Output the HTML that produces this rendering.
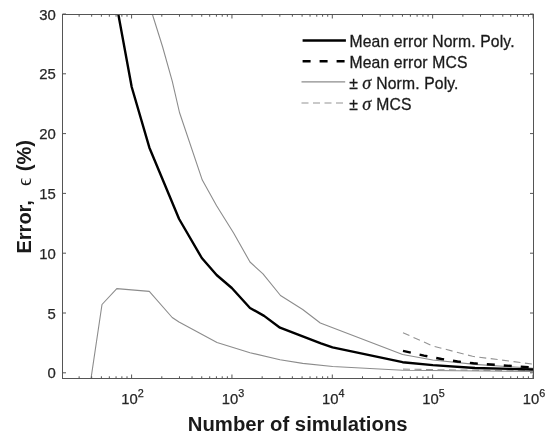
<!DOCTYPE html>
<html><head><meta charset="utf-8"><style>html,body{margin:0;padding:0;background:#fff;width:550px;height:440px;overflow:hidden}svg{display:block}</style></head>
<body><svg width="550" height="440" viewBox="0 0 550 440">
<defs><clipPath id="c"><rect x="62.5" y="14.5" width="471.0" height="364.0"/></clipPath></defs>
<rect width="550" height="440" fill="#fff"/>
<g clip-path="url(#c)" fill="none" stroke-linejoin="round">
<polyline points="89.0,392.0 102.0,304.5 116.8,288.6 149.3,291.4 172.2,317.5 179.0,322.0 217.0,342.5 250.0,352.7 280.0,359.8 302.7,363.4 332.7,366.5 402.6,370.3 533.0,371.5" stroke="#8c8c8c" stroke-width="1.1"/>
<polyline points="403.0,369.1 475.0,370.3 533.0,371.0" stroke="#939393" stroke-width="1.1" stroke-dasharray="7,4.5"/>
<polyline points="149.4,3.0 152.3,14.0 162.5,46.5 172.3,81.4 179.5,112.5 202.3,180.1 216.6,205.7 233.6,233.0 250.0,262.0 263.0,273.9 280.5,295.5 302.7,309.5 320.3,323.0 402.6,354.5 432.8,360.0 475.0,364.4 533.0,368.2" stroke="#8c8c8c" stroke-width="1.1"/>
<polyline points="403.0,332.7 432.6,345.9 472.5,356.3 532.4,364.1" stroke="#939393" stroke-width="1.1" stroke-dasharray="7,4.5"/>
<polyline points="116.8,6.0 131.7,87.0 149.4,147.7 179.1,219.0 201.8,258.0 216.6,275.0 231.8,288.0 250.0,308.0 264.1,315.9 280.0,327.7 302.7,336.4 320.9,343.4 332.5,347.3 402.6,362.2 432.8,365.1 475.0,368.0 533.0,369.5" stroke="#000" stroke-width="2.4"/>
<polyline points="403.0,350.8 424.0,355.6 441.5,359.0 457.5,361.5 473.5,363.3 533.0,367.5" stroke="#000" stroke-width="2.4" stroke-dasharray="8,9"/>
</g>
<rect x="62.5" y="14.5" width="471.0" height="364.0" fill="none" stroke="#555" stroke-width="1"/>
<path d="M79.13,378.5v-2.2M79.13,14.5v2.2M91.67,378.5v-2.2M91.67,14.5v2.2M101.39,378.5v-2.2M101.39,14.5v2.2M109.34,378.5v-2.2M109.34,14.5v2.2M116.06,378.5v-2.2M116.06,14.5v2.2M121.88,378.5v-2.2M121.88,14.5v2.2M127.01,378.5v-2.2M127.01,14.5v2.2M131.60,378.5v-4M131.60,14.5v4M161.81,378.5v-2.2M161.81,14.5v2.2M179.48,378.5v-2.2M179.48,14.5v2.2M192.02,378.5v-2.2M192.02,14.5v2.2M201.74,378.5v-2.2M201.74,14.5v2.2M209.69,378.5v-2.2M209.69,14.5v2.2M216.41,378.5v-2.2M216.41,14.5v2.2M222.23,378.5v-2.2M222.23,14.5v2.2M227.36,378.5v-2.2M227.36,14.5v2.2M231.95,378.5v-4M231.95,14.5v4M262.16,378.5v-2.2M262.16,14.5v2.2M279.83,378.5v-2.2M279.83,14.5v2.2M292.37,378.5v-2.2M292.37,14.5v2.2M302.09,378.5v-2.2M302.09,14.5v2.2M310.04,378.5v-2.2M310.04,14.5v2.2M316.76,378.5v-2.2M316.76,14.5v2.2M322.58,378.5v-2.2M322.58,14.5v2.2M327.71,378.5v-2.2M327.71,14.5v2.2M332.30,378.5v-4M332.30,14.5v4M362.51,378.5v-2.2M362.51,14.5v2.2M380.18,378.5v-2.2M380.18,14.5v2.2M392.72,378.5v-2.2M392.72,14.5v2.2M402.44,378.5v-2.2M402.44,14.5v2.2M410.39,378.5v-2.2M410.39,14.5v2.2M417.11,378.5v-2.2M417.11,14.5v2.2M422.93,378.5v-2.2M422.93,14.5v2.2M428.06,378.5v-2.2M428.06,14.5v2.2M432.65,378.5v-4M432.65,14.5v4M462.86,378.5v-2.2M462.86,14.5v2.2M480.53,378.5v-2.2M480.53,14.5v2.2M493.07,378.5v-2.2M493.07,14.5v2.2M502.79,378.5v-2.2M502.79,14.5v2.2M510.74,378.5v-2.2M510.74,14.5v2.2M517.46,378.5v-2.2M517.46,14.5v2.2M523.28,378.5v-2.2M523.28,14.5v2.2M528.41,378.5v-2.2M528.41,14.5v2.2M533.00,378.5v-4M533.00,14.5v4M62.5,372.80h3.5M533.5,372.80h-3.5M62.5,313.00h3.5M533.5,313.00h-3.5M62.5,253.20h3.5M533.5,253.20h-3.5M62.5,193.40h3.5M533.5,193.40h-3.5M62.5,133.60h3.5M533.5,133.60h-3.5M62.5,73.80h3.5M533.5,73.80h-3.5M62.5,14.00h3.5M533.5,14.00h-3.5" stroke="#555" stroke-width="1" fill="none"/>
<g font-family="Liberation Sans, Arial, sans-serif" font-size="14.9" fill="#262626" stroke="#262626" stroke-width="0.25">
<text x="55.9" y="378.3" text-anchor="end">0</text><text x="55.9" y="318.5" text-anchor="end">5</text><text x="55.9" y="258.7" text-anchor="end">10</text><text x="55.9" y="198.9" text-anchor="end">15</text><text x="55.9" y="139.1" text-anchor="end">20</text><text x="55.9" y="79.3" text-anchor="end">25</text><text x="55.9" y="19.5" text-anchor="end">30</text>
<text x="132.6" y="404" text-anchor="middle" font-size="14.8">10<tspan dy="-7.5" font-size="10.8">2</tspan></text><text x="232.9" y="404" text-anchor="middle" font-size="14.8">10<tspan dy="-7.5" font-size="10.8">3</tspan></text><text x="333.3" y="404" text-anchor="middle" font-size="14.8">10<tspan dy="-7.5" font-size="10.8">4</tspan></text><text x="433.6" y="404" text-anchor="middle" font-size="14.8">10<tspan dy="-7.5" font-size="10.8">5</tspan></text><text x="534.0" y="404" text-anchor="middle" font-size="14.8">10<tspan dy="-7.5" font-size="10.8">6</tspan></text>
</g>
<text x="297.7" y="430.5" text-anchor="middle" font-family="Liberation Sans, Arial, sans-serif" font-weight="bold" font-size="20.3" fill="#1a1a1a">Number of simulations</text>
<g transform="translate(31,0) rotate(-90)" font-family="Liberation Sans, Arial, sans-serif" font-weight="bold" font-size="20" fill="#1a1a1a">
<text x="-253.5" y="0">Error,</text>
<text x="-186" y="0" font-family="Liberation Serif, serif" font-weight="normal" font-size="20">ϵ</text>
<text x="-171.2" y="0">(%)</text>
</g>
<g font-family="Liberation Sans, Arial, sans-serif" font-size="15.7" letter-spacing="0.15" fill="#1a1a1a" stroke="#1a1a1a" stroke-width="0.3">
<line x1="302.6" y1="40.5" x2="345.9" y2="40.5" stroke="#000" stroke-width="2.4"/>
<line x1="302.6" y1="61.3" x2="345.9" y2="61.3" stroke="#000" stroke-width="2.4" stroke-dasharray="8,9"/>
<line x1="301.5" y1="81.9" x2="345.2" y2="81.9" stroke="#8c8c8c" stroke-width="1.1"/>
<line x1="301.5" y1="103" x2="345.2" y2="103" stroke="#939393" stroke-width="1.1" stroke-dasharray="7,4.5"/>
<text x="349.5" y="47">Mean error Norm. Poly.</text>
<text x="349.5" y="67.9">Mean error MCS</text>
<text x="349.3" y="88.8">±</text><text x="362.2" y="88.8" font-family="Liberation Serif, serif" font-style="italic" font-size="18">σ</text><text x="376.2" y="88.8">Norm. Poly.</text>
<text x="349.3" y="109.7">±</text><text x="362.2" y="109.7" font-family="Liberation Serif, serif" font-style="italic" font-size="18">σ</text><text x="376.2" y="109.7">MCS</text>
</g>
</svg></body></html>
